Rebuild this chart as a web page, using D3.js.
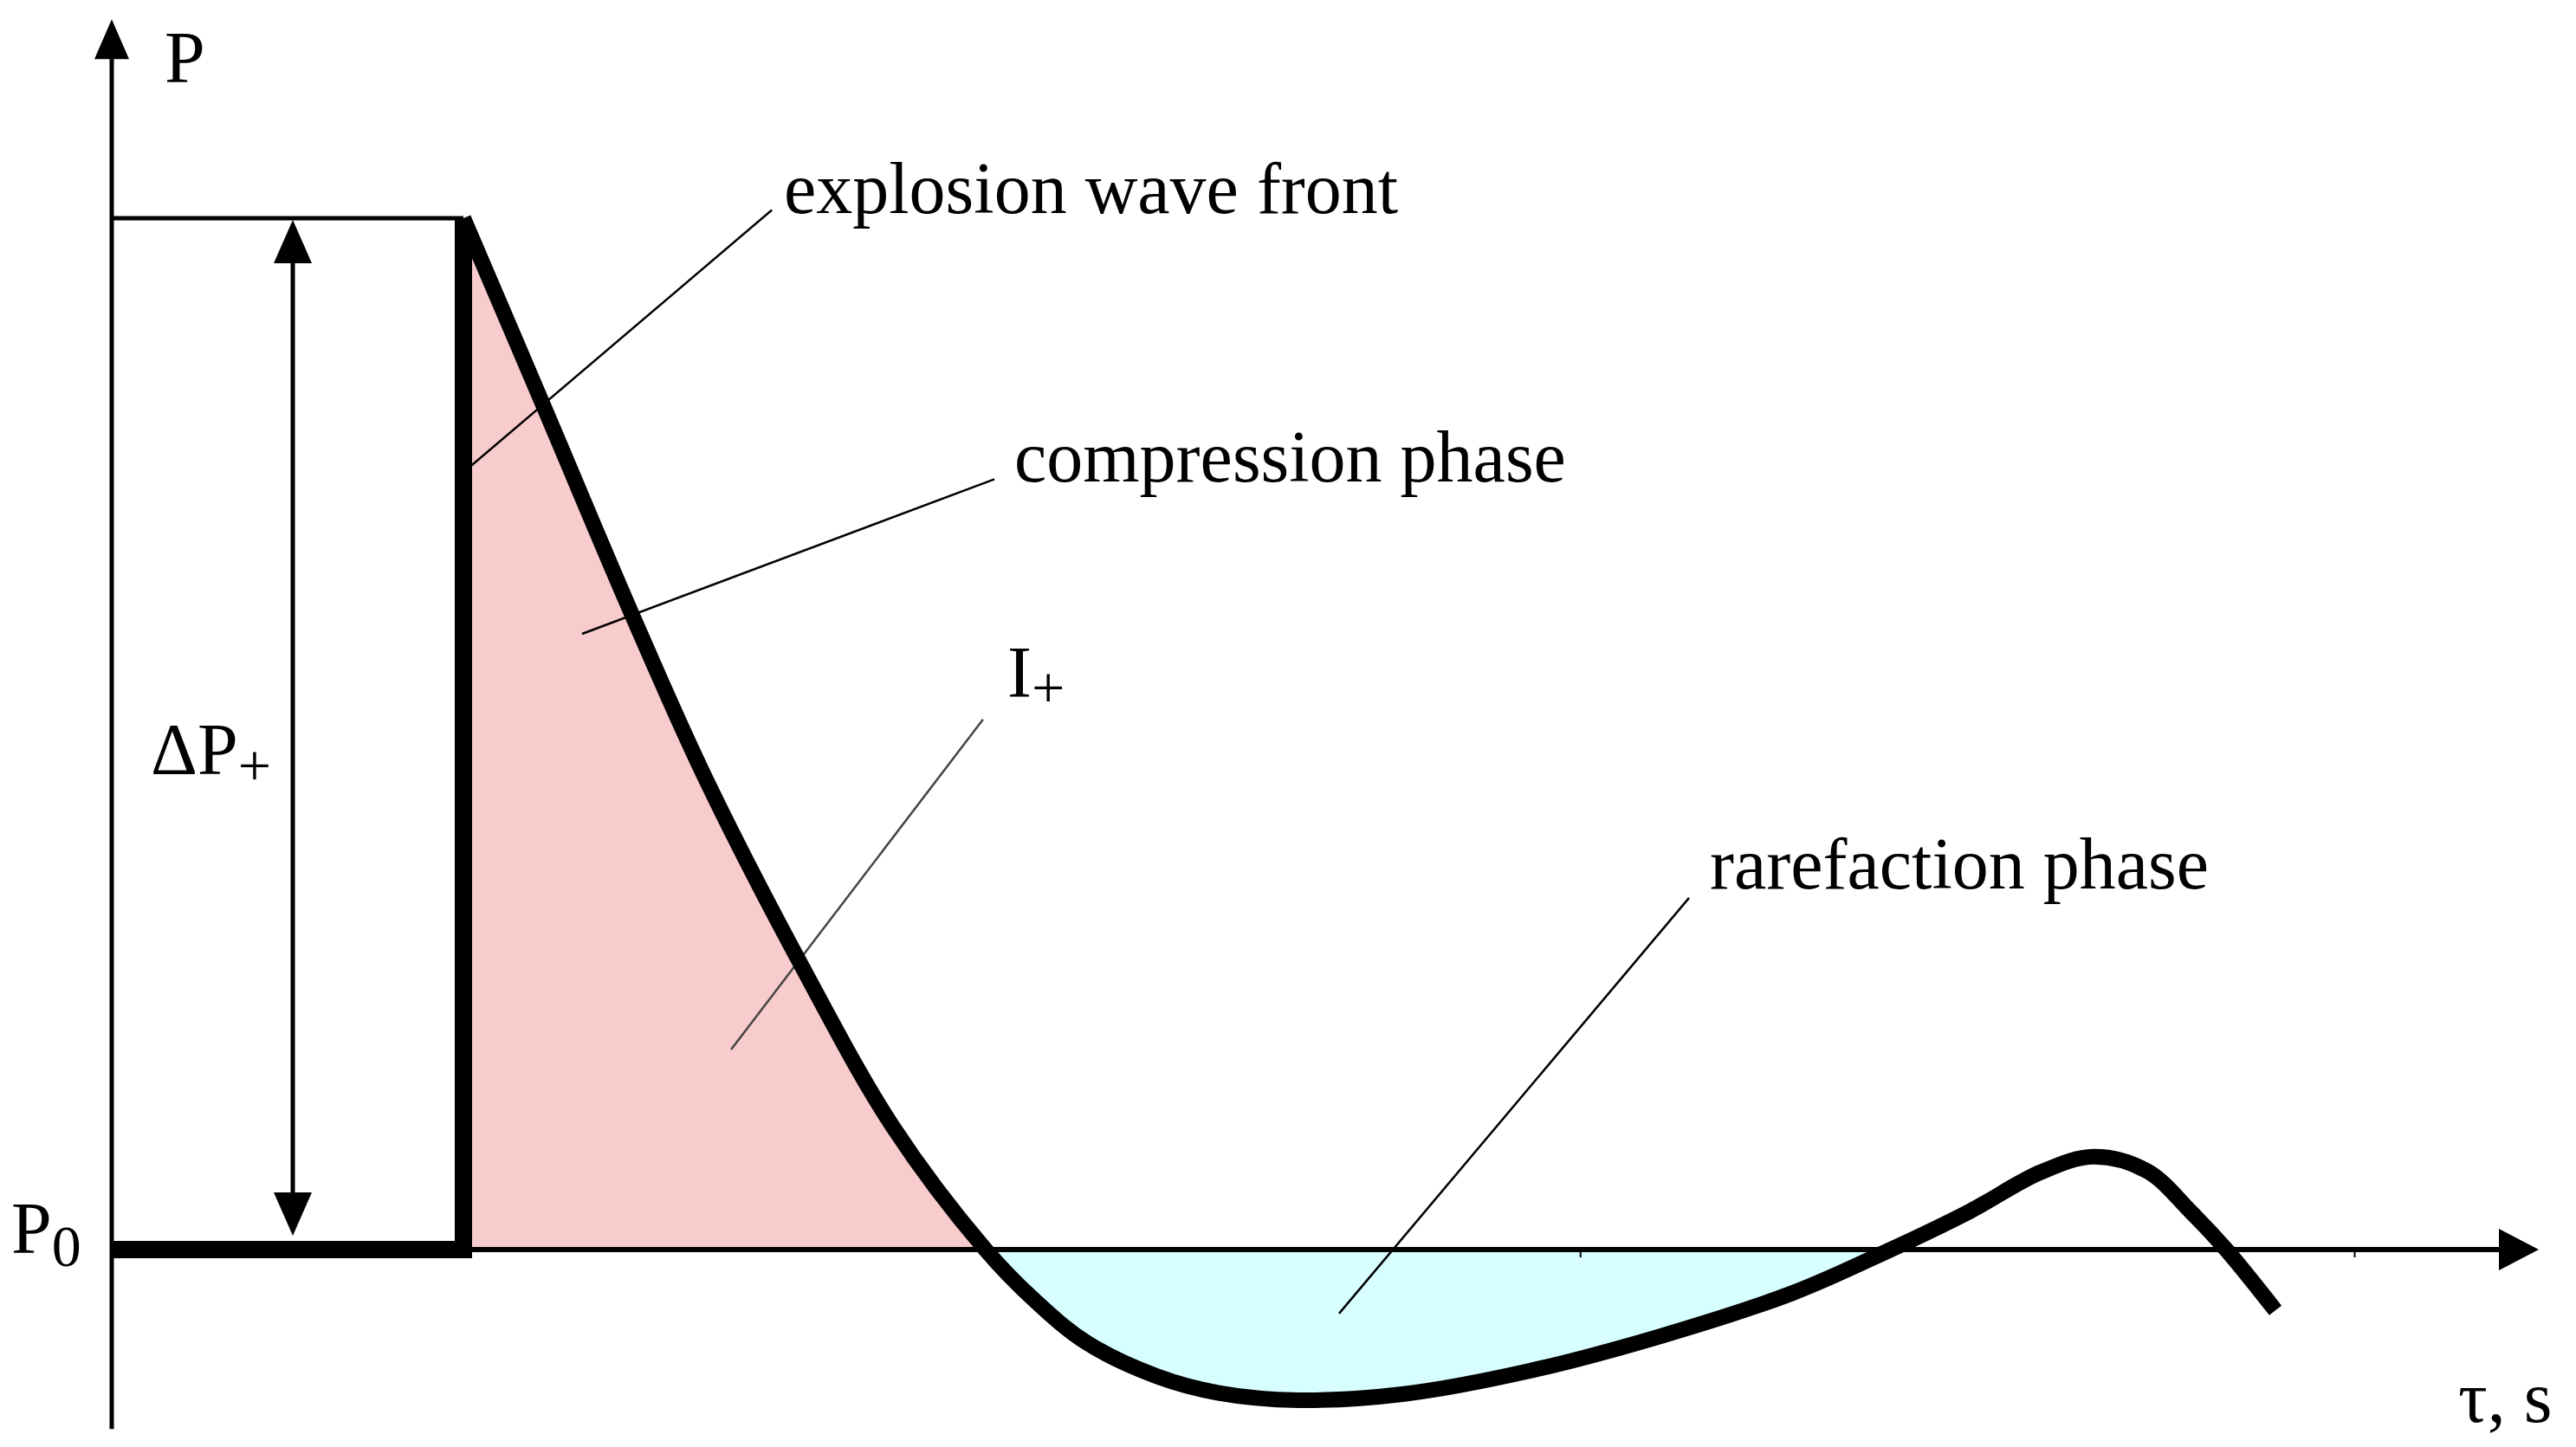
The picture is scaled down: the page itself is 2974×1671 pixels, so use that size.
<!DOCTYPE html>
<html>
<head>
<meta charset="utf-8">
<script src="https://cdn.jsdelivr.net/npm/d3@7"></script>
<style>
    html, body { margin: 0; padding: 0; background: #fff; }
    svg { display: block; }
    text { font-family: "Liberation Serif", "Times New Roman", serif; fill: #000; }
</style>
</head>
<body>
<div id="chart"></div>
<script>
// time (arbitrary units) and overpressure relative to P0 (peak = 1)
let TAU = [14.49, 17.81, 21.45, 24.48, 28.52, 32.16, 36.00, 37.97, 40.15, 43.08,
           45.61, 48.89, 53.25, 58.35, 63.81, 69.27, 73.30, 76.55, 79.48, 81.66,
           83.87, 85.69, 87.12, 89.15];
let PRESSURE = [1.000, 0.817, 0.615, 0.456, 0.271, 0.120, 0.000, -0.048, -0.090, -0.123,
                -0.139, -0.146, -0.140, -0.118, -0.084, -0.042, 0.000, 0.037, 0.075, 0.090,
                0.076, 0.036, 0.000, -0.059];

// front arrival, end of compression phase, end of rarefaction phase
let PHASE_BOUNDS = [14.49, 36.00, 73.30];

let CALLOUTS = ["explosion wave front", "compression phase", "rarefaction phase"];
let AXIS_LABELS = ["P", "τ, s"];

let WIDTH = 2974;
let HEIGHT = 1671;

let svg = d3.select("#chart")
    .append("svg")
    .attr("width", WIDTH)
    .attr("height", HEIGHT);

svg.append("rect")
    .attr("width", WIDTH)
    .attr("height", HEIGHT)
    .attr("fill", "#fff");

let x = d3.scaleLinear().domain([0, 100]).range([129, 2931]);
let y = d3.scaleLinear().domain([0, 1]).range([1443, 252]);

let points = TAU.map((t, i) => ({ t: t, p: PRESSURE[i] }));
let traceCurve = d3.curveCatmullRom.alpha(0.5);

/**
 * Filled triangle with its tip at (tx, ty), pointing in the direction angle (radians).
 */
function arrowHead(tx, ty, angle, len, half) {
    let bx = tx - Math.cos(angle) * len;
    let by = ty - Math.sin(angle) * len;
    let nx = -Math.sin(angle) * half;
    let ny = Math.cos(angle) * half;
    let path = d3.path();
    path.moveTo(tx, ty);
    path.lineTo(bx + nx, by + ny);
    path.lineTo(bx - nx, by - ny);
    path.closePath();
    return path.toString();
}

// ---- phase areas ----
let area = d3.area()
    .x(d => x(d.t))
    .y0(y(0))
    .y1(d => y(d.p))
    .curve(traceCurve);

let defs = svg.append("defs");
let phases = [
    { id: "clip-compression", from: PHASE_BOUNDS[0], to: PHASE_BOUNDS[1], fill: "#f8cbcd" },
    { id: "clip-rarefaction", from: PHASE_BOUNDS[1], to: PHASE_BOUNDS[2], fill: "#d8ffff" }
];
phases.forEach(ph => {
    defs.append("clipPath").attr("id", ph.id)
        .append("rect")
        .attr("x", x(ph.from))
        .attr("y", 0)
        .attr("width", x(ph.to) - x(ph.from))
        .attr("height", HEIGHT);
    svg.append("path")
        .datum(points)
        .attr("d", area)
        .attr("fill", ph.fill)
        .attr("clip-path", `url(#${ph.id})`);
});

// ---- axes ----
let yAxisExtent = [-0.174, 1.193];
svg.append("line")
    .attr("x1", x(0)).attr("x2", x(0))
    .attr("y1", y(yAxisExtent[0])).attr("y2", y(yAxisExtent[1]) + 30)
    .attr("stroke", "#000").attr("stroke-width", 5);
svg.append("path")
    .attr("d", arrowHead(x(0), y(yAxisExtent[1]), -Math.PI / 2, 46, 20))
    .attr("fill", "#000");

svg.append("line")
    .attr("x1", x(0)).attr("x2", x(100) - 30)
    .attr("y1", y(0)).attr("y2", y(0))
    .attr("stroke", "#000").attr("stroke-width", 6);
svg.append("path")
    .attr("d", arrowHead(x(100), y(0), 0, 46, 24))
    .attr("fill", "#000");

let ticks = svg.append("g")
    .attr("transform", `translate(0, ${y(0) + 3})`)
    .call(d3.axisBottom(x).tickValues([60.5, 92.4]).tickSize(6).tickFormat(""));
ticks.select(".domain").remove();
ticks.selectAll(".tick line").attr("stroke", "#000").attr("stroke-width", 2);

// peak level line and the ΔP+ dimension arrow
svg.append("line")
    .attr("x1", x(0)).attr("x2", x(PHASE_BOUNDS[0]))
    .attr("y1", y(1)).attr("y2", y(1))
    .attr("stroke", "#000").attr("stroke-width", 5);

let dimX = x(7.46);
let dimTop = y(1) + 2;
let dimBottom = y(0) - 16;
svg.append("line")
    .attr("x1", dimX).attr("x2", dimX)
    .attr("y1", dimTop + 30).attr("y2", dimBottom - 30)
    .attr("stroke", "#000").attr("stroke-width", 5);
svg.append("path").attr("d", arrowHead(dimX, dimTop, -Math.PI / 2, 50, 22)).attr("fill", "#000");
svg.append("path").attr("d", arrowHead(dimX, dimBottom, Math.PI / 2, 50, 22)).attr("fill", "#000");

// ---- leader lines ----
let leaders = [
    { from: [27.20, 1.008], to: [14.56, 0.755], color: "#000" },
    { from: [36.37, 0.747], to: [19.38, 0.597], color: "#000" },
    { from: [35.90, 0.514], to: [25.52, 0.194], color: "#444" },
    { from: [64.99, 0.341], to: [50.57, -0.062], color: "#000" }
];
svg.selectAll("line.leader")
    .data(leaders)
    .enter().append("line")
    .classed("leader", true)
    .attr("x1", d => x(d.from[0])).attr("y1", d => y(d.from[1]))
    .attr("x2", d => x(d.to[0])).attr("y2", d => y(d.to[1]))
    .attr("stroke", d => d.color)
    .attr("stroke-width", 2.5);

// ---- pressure trace ----
// P0 level before the front and the instantaneous jump at the front
svg.append("path")
    .datum([{ t: 0, p: 0 }, { t: PHASE_BOUNDS[0], p: 0 }, { t: PHASE_BOUNDS[0], p: 1 }])
    .attr("d", d3.line().x(d => x(d.t)).y(d => y(d.p)))
    .attr("fill", "none")
    .attr("stroke", "#000")
    .attr("stroke-width", 20)
    .attr("stroke-linejoin", "miter");

svg.append("path")
    .datum(points)
    .attr("d", d3.line().x(d => x(d.t)).y(d => y(d.p)).curve(traceCurve))
    .attr("fill", "none")
    .attr("stroke", "#000")
    .attr("stroke-width", 18)
    .attr("stroke-linejoin", "round");

// ---- text ----
let FONT = 84;
let SUB = 68;

svg.append("text").attr("x", 190).attr("y", 95).attr("font-size", FONT).text(AXIS_LABELS[0]);
svg.append("text").attr("x", 2838).attr("y", 1642).attr("font-size", FONT).text(AXIS_LABELS[1]);

let p0 = svg.append("text").attr("x", 13).attr("y", 1447).attr("font-size", FONT);
p0.append("tspan").text("P");
p0.append("tspan").attr("font-size", SUB).attr("dy", 15).text("0");

let dp = svg.append("text").attr("x", 174).attr("y", 894).attr("font-size", FONT);
dp.append("tspan").text("ΔP");
dp.append("tspan").attr("font-size", SUB).attr("dy", 13).text("+");

let imp = svg.append("text").attr("x", 1163).attr("y", 805).attr("font-size", FONT);
imp.append("tspan").text("I");
imp.append("tspan").attr("font-size", SUB).attr("dy", 12).text("+");

let calloutPos = [[905, 246], [1171, 556], [1974, 1026]];
svg.selectAll("text.callout")
    .data(CALLOUTS)
    .enter().append("text")
    .classed("callout", true)
    .attr("x", (d, i) => calloutPos[i][0])
    .attr("y", (d, i) => calloutPos[i][1])
    .attr("font-size", FONT)
    .text(d => d);
</script>
</body>
</html>
